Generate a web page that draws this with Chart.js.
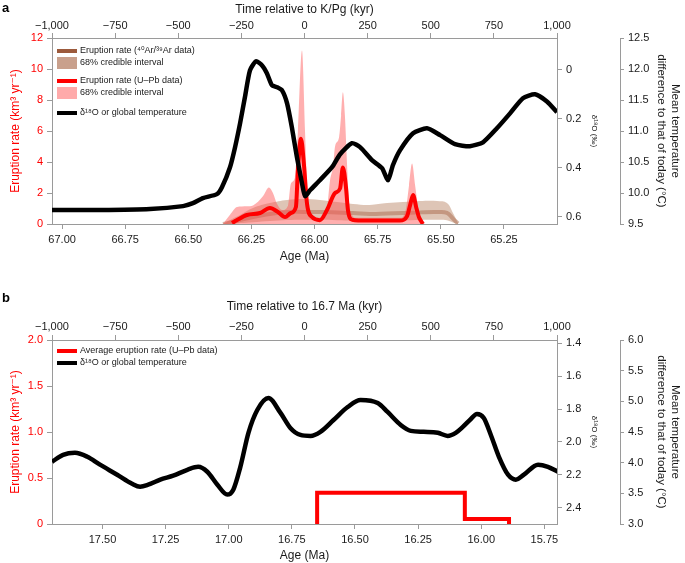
<!DOCTYPE html>
<html>
<head>
<meta charset="utf-8">
<script src="https://cdn.jsdelivr.net/npm/chart.js@4.4.0/dist/chart.umd.min.js"></script>
<style>
    body { margin: 0; background: #fff; width: 685px; height: 563px; overflow: hidden; position: relative; }
    canvas { position: absolute; left: 0; }
    #chartA { top: 0; }
    #chartB { top: 272px; }
</style>
</head>
<body>
<canvas id="chartA" width="685" height="272"></canvas>
<canvas id="chartB" width="685" height="291"></canvas>
<script>
/* =========================================
   1. Data
   ========================================= */

// Panel a - K/Pg boundary, Deccan Traps
const ageTicksA = [67.00, 66.75, 66.50, 66.25, 66.00, 65.75, 65.50, 65.25];
const kyrTicks = [-1000, -750, -500, -250, 0, 250, 500, 750, 1000];
const rateTicksA = [0, 2, 4, 6, 8, 10, 12];
const d18oTicksA = [0, 0.2, 0.4, 0.6];
const tempTicksA = [9.5, 10.0, 10.5, 11.0, 11.5, 12.0, 12.5];

const isoAgeA = [67.04, 66.85, 66.652, 66.521, 66.482, 66.442, 66.387, 66.367, 66.335, 66.315,
    66.295, 66.276, 66.256, 66.232, 66.208, 66.189, 66.169, 66.149, 66.129, 66.109,
    66.090, 66.070, 66.050, 66.038, 66.018, 65.979, 65.931, 65.899, 65.852, 65.820,
    65.773, 65.733, 65.709, 65.690, 65.662, 65.610, 65.555, 65.503, 65.444, 65.385,
    65.333, 65.278, 65.226, 65.175, 65.127, 65.080, 65.040];
const isoD18oA = [0.573, 0.573, 0.569, 0.557, 0.545, 0.524, 0.508, 0.480, 0.398, 0.316,
    0.218, 0.112, 0.002, -0.035, -0.018, 0.014, 0.063, 0.071, 0.084, 0.137,
    0.235, 0.357, 0.463, 0.516, 0.492, 0.451, 0.398, 0.345, 0.300, 0.316,
    0.369, 0.402, 0.451, 0.390, 0.329, 0.259, 0.239, 0.267, 0.304, 0.312,
    0.296, 0.239, 0.178, 0.116, 0.100, 0.129, 0.173];

const upbAge = [66.327, 66.307, 66.268, 66.216, 66.177, 66.145, 66.117, 66.094, 66.074, 66.066,
    66.054, 66.042, 66.030, 66.010, 65.979, 65.951, 65.919, 65.899, 65.888, 65.876,
    65.868, 65.852, 65.792, 65.662, 65.634, 65.622, 65.610, 65.598, 65.587, 65.571];
const upbRate = [0.06, 0.26, 0.58, 0.71, 1.03, 0.77, 0.45, 0.71, 1.10, 3.50,
    5.50, 3.80, 1.30, 0.45, 0.25, 0.90, 2.00, 2.30, 3.65, 2.40,
    0.90, 0.28, 0.22, 0.22, 0.50, 1.20, 1.87, 1.10, 0.45, 0];

const upbCiAge = [66.363, 66.335, 66.307, 66.268, 66.244, 66.204, 66.181, 66.165, 66.149, 66.129,
    66.105, 66.094, 66.078, 66.066, 66.050, 66.038, 66.030, 66.018, 65.998, 65.959,
    65.951, 65.939, 65.927, 65.919, 65.903, 65.895, 65.888, 65.880, 65.872, 65.864,
    65.852, 65.836, 65.662, 65.638, 65.626, 65.614, 65.602, 65.587, 65.567];
const upbCiHigh = [0, 0.6, 1.1, 1.15, 1.2, 1.8, 2.35, 2.0, 1.3, 0.9,
    1.2, 2.6, 3.0, 6.0, 11.2, 6.0, 2.5, 0.8, 0.4, 0.45,
    0.9, 2.8, 3.7, 5.0, 5.6, 7.0, 8.5, 7.0, 4.0, 1.5,
    0.6, 0.4, 0.4, 1.0, 2.5, 3.9, 2.5, 0.8, 0];

const arAge = [66.363, 66.323, 66.295, 66.244, 66.177, 66.109, 66.046, 65.979, 65.911, 65.848,
    65.781, 65.713, 65.650, 65.583, 65.515, 65.476, 65.452, 65.432];
const arRate = [0, 0.13, 0.25, 0.45, 0.65, 0.77, 0.78, 0.77, 0.74, 0.71,
    0.65, 0.68, 0.71, 0.75, 0.77, 0.72, 0.35, 0.03];
const arCiHigh = [0, 0.35, 0.58, 1.03, 1.35, 1.55, 1.61, 1.55, 1.42, 1.29,
    1.23, 1.35, 1.42, 1.48, 1.48, 1.35, 0.71, 0.06];
const arCiLow = [0, 0.02, 0.06, 0.12, 0.20, 0.26, 0.28, 0.27, 0.25, 0.23,
    0.20, 0.22, 0.24, 0.26, 0.27, 0.24, 0.10, 0];

const legendTextA = ['Eruption rate (⁴⁰Ar/³⁹Ar data)', '68% credible interval',
    'Eruption rate (U–Pb data)', '68% credible interval', 'δ¹⁸O or global temperature'];

// Panel b - 16.7 Ma, Columbia River Basalts
const ageTicksB = [17.50, 17.25, 17.00, 16.75, 16.50, 16.25, 16.00, 15.75];
const rateTicksB = [0, 0.5, 1.0, 1.5, 2.0];
const d18oTicksB = [1.4, 1.6, 1.8, 2.0, 2.2, 2.4];
const tempTicksB = [3.0, 3.5, 4.0, 4.5, 5.0, 5.5, 6.0];

const isoAgeB = [17.700, 17.656, 17.609, 17.560, 17.510, 17.442, 17.383, 17.351, 17.319, 17.271,
    17.220, 17.164, 17.121, 17.085, 17.045, 17.006, 16.982, 16.954, 16.922, 16.887,
    16.843, 16.795, 16.756, 16.716, 16.676, 16.637, 16.585, 16.529, 16.478, 16.410,
    16.371, 16.319, 16.279, 16.228, 16.172, 16.133, 16.101, 16.073, 16.041, 16.017,
    15.990, 15.962, 15.930, 15.894, 15.863, 15.831, 15.775, 15.736, 15.696];
const isoD18oB = [2.121, 2.079, 2.067, 2.091, 2.139, 2.200, 2.255, 2.273, 2.261, 2.230,
    2.206, 2.170, 2.152, 2.182, 2.261, 2.321, 2.291, 2.152, 1.945, 1.806,
    1.733, 1.824, 1.915, 1.958, 1.964, 1.939, 1.867, 1.788, 1.745, 1.764,
    1.818, 1.897, 1.933, 1.939, 1.945, 1.964, 1.945, 1.909, 1.861, 1.830,
    1.855, 1.958, 2.091, 2.200, 2.230, 2.200, 2.139, 2.152, 2.182];

const avgAgeB = [16.65, 16.65, 16.065, 16.065, 15.89, 15.89];
const avgRateB = [0, 0.34, 0.34, 0.055, 0.055, 0];

const legendTextB = ['Average eruption rate (U–Pb data)', 'δ¹⁸O or global temperature'];

/* =========================================
   2. Helpers
   ========================================= */
const FONT = "'Liberation Sans', Arial, 'DejaVu Sans', sans-serif";
const GREY = '#9a9a9a';
const INK = '#1a1a1a';
const RED = '#ff0000';

Chart.defaults.font.family = FONT;
Chart.defaults.color = INK;

const pts = (xs, ys) => xs.map((x, i) => ({ x: x, y: ys[i] }));
const fmtKyr = v => (v < 0 ? '−' : '') + Math.abs(v).toLocaleString('en-US');
const fmtDec = v => (v === 0 ? '0' : v.toFixed(1));

function axis(cfg) {
    return {
        type: 'linear',
        position: cfg.position,
        min: cfg.min,
        max: cfg.max,
        reverse: !!cfg.reverse,
        weight: cfg.weight || 0,
        border: { display: true, color: GREY, width: 1 },
        grid: { drawOnChartArea: false, color: GREY, tickLength: cfg.tickLength || 5, tickWidth: 1 },
        ticks: {
            color: cfg.color || INK,
            font: { size: 11 },
            padding: cfg.pad !== undefined ? cfg.pad : 4,
            autoSkip: false,
            maxRotation: 0,
            callback: cfg.fmt
        },
        title: {
            display: !!cfg.title,
            text: cfg.title,
            color: cfg.color || INK,
            font: cfg.titleFont || { size: 12 },
            padding: cfg.titlePad || 0
        },
        afterBuildTicks: s => { s.ticks = cfg.ticks.map(v => ({ value: v })); },
        afterFit: s => {
            if (cfg.width) s.width = cfg.width;
            if (cfg.height) s.height = cfg.height;
        }
    };
}

// Panel letter + legend drawn inside the plot area
const panelDecor = {
    id: 'panelDecor',
    afterDraw(chart, args, opts) {
        const ctx = chart.ctx;
        const left = chart.chartArea.left + 5;
        ctx.save();
        ctx.textBaseline = 'middle';
        ctx.fillStyle = '#000';
        ctx.font = 'bold 13px ' + FONT;
        ctx.fillText(opts.letter, 2, opts.letterY);
        ctx.font = '9px ' + FONT;
        opts.items.forEach(it => {
            if (it.kind === 'rect') {
                ctx.fillStyle = it.color;
                ctx.fillRect(left, it.y - 6, 20, 12);
            } else {
                ctx.strokeStyle = it.color;
                ctx.lineWidth = 4;
                ctx.beginPath();
                ctx.moveTo(left, it.y);
                ctx.lineTo(left + 20, it.y);
                ctx.stroke();
            }
            ctx.fillStyle = INK;
            ctx.fillText(it.text, left + 23, it.y);
        });
        ctx.restore();
    }
};

const baseOptions = {
    responsive: false,
    animation: false,
    layout: { padding: 0 },
    elements: { point: { radius: 0 } },
    plugins: { legend: { display: false }, tooltip: { enabled: false } }
};

/* =========================================
   3. Panel a
   ========================================= */
new Chart(document.getElementById('chartA'), {
    type: 'line',
    data: {
        datasets: [
            { data: pts(arAge, arCiLow), borderWidth: 0, fill: false, tension: 0.4, order: 5 },
            { data: pts(arAge, arCiHigh), borderWidth: 0, fill: '-1', backgroundColor: 'rgba(190,140,110,0.5)', tension: 0.4, order: 5 },
            { data: pts(arAge, arRate), borderColor: 'rgba(165,95,65,0.45)', borderWidth: 4, fill: false, tension: 0.4, order: 4 },
            { data: pts(upbCiAge, upbCiHigh), borderWidth: 0, fill: 'origin', backgroundColor: 'rgba(255,85,85,0.47)', cubicInterpolationMode: 'monotone', order: 3 },
            { data: pts(upbAge, upbRate), borderColor: RED, borderWidth: 4, fill: false, cubicInterpolationMode: 'monotone', order: 2 },
            { data: pts(isoAgeA, isoD18oA), yAxisID: 'yD', borderColor: '#000', borderWidth: 4.5, fill: false, tension: 0.2, order: 1 }
        ]
    },
    options: Object.assign({}, baseOptions, {
        scales: {
            x: axis({ position: 'bottom', min: 65.04, max: 67.04, reverse: true, ticks: ageTicksA,
                fmt: v => v.toFixed(2), title: 'Age (Ma)', titlePad: { top: 0, bottom: 8 }, height: 48 }),
            xTop: axis({ position: 'top', min: -1000, max: 1000, ticks: kyrTicks, fmt: fmtKyr, pad: 0,
                title: 'Time relative to K/Pg (kyr)', titlePad: { top: 2, bottom: 0 }, height: 38 }),
            y: axis({ position: 'left', min: 0, max: 12, ticks: rateTicksA, fmt: v => String(v), color: RED,
                title: 'Eruption rate (km³ yr⁻¹)', titlePad: { top: 8, bottom: 0 }, width: 52 }),
            yD: axis({ position: 'right', min: -0.13, max: 0.63, reverse: true, ticks: d18oTicksA, fmt: fmtDec,
                title: 'δ¹⁸O (‰)', titleFont: { size: 8 }, titlePad: { top: 21, bottom: 0 }, width: 63 }),
            yT: axis({ position: 'right', weight: 1, min: 9.5, max: 12.5, ticks: tempTicksA, fmt: v => v.toFixed(1),
                tickLength: 4, title: ['Mean temperature', 'difference to that of today (°C)'],
                titleFont: { size: 11.5, lineHeight: 1.15 }, titlePad: { top: 3.5, bottom: 0 }, width: 65 })
        },
        plugins: Object.assign({}, baseOptions.plugins, {
            panelDecor: {
                letter: 'a', letterY: 8,
                items: [
                    { kind: 'line', color: '#9c5a3c', y: 51, text: legendTextA[0] },
                    { kind: 'rect', color: '#c9a08c', y: 63, text: legendTextA[1] },
                    { kind: 'line', color: RED, y: 81, text: legendTextA[2] },
                    { kind: 'rect', color: '#ffaaaa', y: 93, text: legendTextA[3] },
                    { kind: 'line', color: '#000', y: 113, text: legendTextA[4] }
                ]
            }
        })
    }),
    plugins: [panelDecor]
});

/* =========================================
   4. Panel b
   ========================================= */
new Chart(document.getElementById('chartB'), {
    type: 'line',
    data: {
        datasets: [
            { data: pts(avgAgeB, avgRateB), borderColor: RED, borderWidth: 4, fill: false, tension: 0,
              borderJoinStyle: 'miter', order: 2 },
            { data: pts(isoAgeB, isoD18oB), yAxisID: 'yD', borderColor: '#000', borderWidth: 4.5, fill: false,
              cubicInterpolationMode: 'monotone', order: 1 }
        ]
    },
    options: Object.assign({}, baseOptions, {
        scales: {
            x: axis({ position: 'bottom', min: 15.70, max: 17.70, reverse: true, ticks: ageTicksB,
                fmt: v => v.toFixed(2), title: 'Age (Ma)', titlePad: { top: 0, bottom: 0 }, height: 39 }),
            xTop: axis({ position: 'top', min: -1000, max: 1000, ticks: kyrTicks, fmt: fmtKyr, pad: 1,
                title: 'Time relative to 16.7 Ma (kyr)', titlePad: { top: 27, bottom: 0 }, height: 68 }),
            y: axis({ position: 'left', min: 0, max: 2, ticks: rateTicksB, fmt: fmtDec, color: RED,
                title: 'Eruption rate (km³ yr⁻¹)', titlePad: { top: 8, bottom: 0 }, width: 52 }),
            yD: axis({ position: 'right', min: 1.38, max: 2.50, reverse: true, ticks: d18oTicksB, fmt: v => v.toFixed(1),
                title: 'δ¹⁸O (‰)', titleFont: { size: 8 }, titlePad: { top: 21, bottom: 0 }, width: 63 }),
            yT: axis({ position: 'right', weight: 1, min: 3, max: 6, ticks: tempTicksB, fmt: v => v.toFixed(1),
                tickLength: 4, title: ['Mean temperature', 'difference to that of today (°C)'],
                titleFont: { size: 11.5, lineHeight: 1.15 }, titlePad: { top: 3.5, bottom: 0 }, width: 65 })
        },
        plugins: Object.assign({}, baseOptions.plugins, {
            panelDecor: {
                letter: 'b', letterY: 26,
                items: [
                    { kind: 'line', color: RED, y: 79, text: legendTextB[0] },
                    { kind: 'line', color: '#000', y: 91, text: legendTextB[1] }
                ]
            }
        })
    }),
    plugins: [panelDecor]
});
</script>
</body>
</html>
